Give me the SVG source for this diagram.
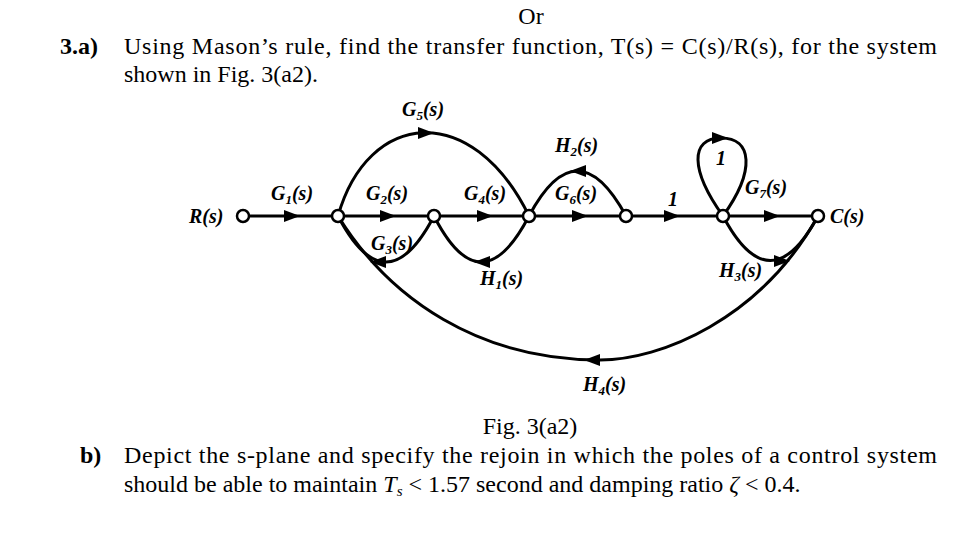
<svg xmlns="http://www.w3.org/2000/svg" width="962" height="539" viewBox="0 0 962 539">
<defs>
<style>
.t{font-family:"Liberation Serif",serif;font-size:24px;fill:#000}
.l{font-family:"Liberation Serif",serif;font-size:20px;font-weight:bold;font-style:italic;fill:#000}
.e{fill:none;stroke:#000;stroke-width:3}
.n{fill:#fff;stroke:#000;stroke-width:2.5}
.a{fill:#000}
</style>
</defs>
<rect width="962" height="539" fill="#fff"/>
<text class="t" x="531" y="24" text-anchor="middle">Or</text>
<text class="t" x="60" y="54" font-weight="bold">3.a)</text>
<text class="t" x="124" y="54" textLength="813" lengthAdjust="spacing">Using Mason’s rule, find the transfer function, T(s) = C(s)/R(s), for the system</text>
<text class="t" x="124" y="82">shown in Fig. 3(a2).</text>
<g id="connectors">
<path class="e" d="M249,216 H332 M344,216 H428 M440,216 H523 M535,216 H620 M632,216 H717 M729,216 H812"/>
<path class="e" d="M338,216 C368,110 472,100 529,216"/>
<path class="e" d="M338,216 Q386,308 434,216"/>
<path class="e" d="M434,216 Q481,308 529,216"/>
<path class="e" d="M529,216 Q577,126 626,216"/>
<path class="e" d="M723,216 C690,170 690,138 721,138 C752,138 756,170 723,216"/>
<path class="e" d="M723,216 Q770,305 818,216"/>
<path class="e" d="M818,216 C760,320 660,360 600,360 C480,360 390,300 338,216"/>
<polygon class="a" points="300,216 284,210 284,222"/>
<polygon class="a" points="396,216 380,210 380,222"/>
<polygon class="a" points="493,216 477,210 477,222"/>
<polygon class="a" points="588,216 572,210 572,222"/>
<polygon class="a" points="680,216 664,210 664,222"/>
<polygon class="a" points="780,216 764,210 764,222"/>
<polygon class="a" points="434,133 418,127 418,139"/>
<polygon class="a" points="370,262 386,256 386,268"/>
<polygon class="a" points="474,262 490,256 490,268"/>
<polygon class="a" points="570,171 586,165 586,177"/>
<polygon class="a" points="728,138 712,132 712,144"/>
<polygon class="a" points="790,261 774,255 774,267"/>
<polygon class="a" points="584,360 600,354 600,366"/>
</g>
<g id="R"><circle class="n" cx="243" cy="216" r="6"/><text class="l" x="189" y="223" font-size="21">R(s)</text></g>
<g id="n1"><circle class="n" cx="338" cy="216" r="6"/></g>
<g id="n2"><circle class="n" cx="434" cy="216" r="6"/></g>
<g id="n3"><circle class="n" cx="529" cy="216" r="6"/></g>
<g id="n4"><circle class="n" cx="626" cy="216" r="6"/></g>
<g id="n5"><circle class="n" cx="723" cy="216" r="6"/></g>
<g id="C"><circle class="n" cx="818" cy="216" r="6"/><text class="l" x="830" y="223" font-size="21">C(s)</text></g>
<g id="labels">
<text class="l" x="271" y="200">G<tspan font-size="13" dy="4">1</tspan><tspan dy="-4">(s)</tspan></text>
<text class="l" x="366" y="200">G<tspan font-size="13" dy="4">2</tspan><tspan dy="-4">(s)</tspan></text>
<text class="l" x="464" y="200">G<tspan font-size="13" dy="4">4</tspan><tspan dy="-4">(s)</tspan></text>
<text class="l" x="555" y="200">G<tspan font-size="13" dy="4">6</tspan><tspan dy="-4">(s)</tspan></text>
<text class="l" x="745" y="194">G<tspan font-size="13" dy="4">7</tspan><tspan dy="-4">(s)</tspan></text>
<text class="l" x="402" y="116">G<tspan font-size="13" dy="4">5</tspan><tspan dy="-4">(s)</tspan></text>
<text class="l" x="371" y="250">G<tspan font-size="13" dy="4">3</tspan><tspan dy="-4">(s)</tspan></text>
<text class="l" x="480" y="285">H<tspan font-size="13" dy="4">1</tspan><tspan dy="-4">(s)</tspan></text>
<text class="l" x="555" y="152">H<tspan font-size="13" dy="4">2</tspan><tspan dy="-4">(s)</tspan></text>
<text class="l" x="719" y="277">H<tspan font-size="13" dy="4">3</tspan><tspan dy="-4">(s)</tspan></text>
<text class="l" x="583" y="391">H<tspan font-size="13" dy="4">4</tspan><tspan dy="-4">(s)</tspan></text>
<text class="l" x="668" y="206">1</text>
<text class="l" x="716" y="165">1</text>
</g>
<text class="t" x="530" y="434" text-anchor="middle">Fig. 3(a2)</text>
<text class="t" x="80" y="463" font-weight="bold">b)</text>
<text class="t" x="124" y="463" textLength="813" lengthAdjust="spacing">Depict the s-plane and specify the rejoin in which the poles of a control system</text>
<text class="t" x="124" y="492">should be able to maintain <tspan font-style="italic">T</tspan><tspan font-style="italic" font-size="15" dy="4">s</tspan><tspan dy="-4"> &lt; 1.57 second and damping ratio </tspan><tspan font-style="italic">ζ</tspan> &lt; 0.4.</text>
</svg>
